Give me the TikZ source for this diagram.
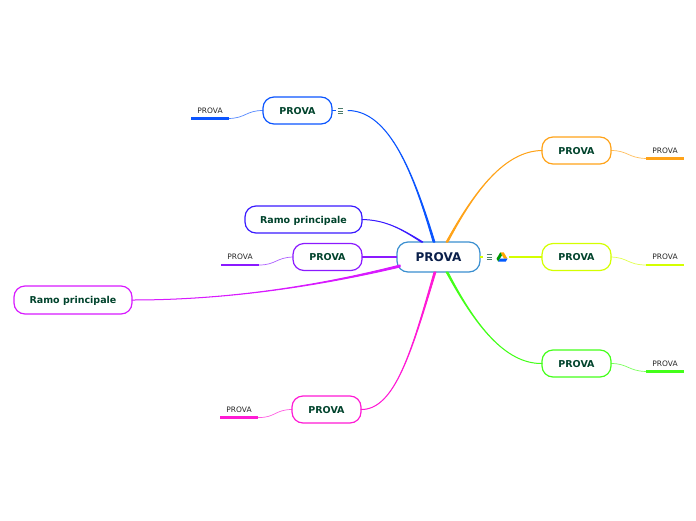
\documentclass[tikz,border=0pt]{standalone}
\usepackage{xcolor}
\usepackage{fontspec}
\setmainfont{DejaVu Sans}
\usetikzlibrary{positioning, calc}
\definecolor{rootline}{HTML}{3A8FD0}
\definecolor{rootink}{HTML}{0A1F4A}
\definecolor{branchink}{HTML}{00432C}
\definecolor{blueline}{HTML}{0B55FF}
\definecolor{orangeline}{HTML}{FFA319}
\definecolor{yellowline}{HTML}{D4FF00}
\definecolor{greenline}{HTML}{44FF1A}
\definecolor{pinkline}{HTML}{FF1AD5}
\definecolor{violetline}{HTML}{8B1AFF}
\definecolor{indigoline}{HTML}{3A1AFF}
\definecolor{magentaline}{HTML}{D81AFF}
% tapered connector: colour, offset at the thick end, start, control, control, end
\newcommand{\taperline}[6]{
  \draw[draw=#1, fill=#1, line width=1pt, line join=round]
   ($(#3)+(#2)$) .. controls (#4) and (#5) .. (#6)
   .. controls (#5) and (#4) .. ($(#3)-(#2)$) -- cycle;
}
\begin{document}
\begin{tikzpicture}[
   x=1pt, y=1pt,
   root/.style = {draw=rootline, line width=1.2pt, fill=white, rectangle, rounded corners=11pt, minimum width=83pt, minimum height=30pt, inner sep=0pt, outer sep=0pt, text=rootink, text height=8.8pt, text depth=0pt, font=\bfseries\fontsize{12}{14}\selectfont},
   branch/.style = {draw, line width=1.2pt, fill=white, rectangle, rounded corners=11pt, minimum width=69pt, minimum height=27pt, inner sep=0pt, outer sep=0pt, text=branchink, text height=7pt, text depth=0pt, font=\bfseries\fontsize{9.5}{11}\selectfont},
   leaf/.style = {rectangle, minimum width=38pt, minimum height=16pt, inner sep=0pt, outer sep=0pt, text=black!85, font=\fontsize{7.5}{9}\selectfont},
   leafline/.style = {line width=2.2pt},
   twig/.style = {line width=.7pt, opacity=.7},
   noteicon/.pic = {
     \draw[line width=.8pt, branchink!70] (-2.7,-2.4) -- (2.7,-2.4) (-2.7,0) -- (2.7,0) (-2.7,2.4) -- (2.7,2.4);
   }
   ]
  \useasboundingbox (0,0) rectangle (696,-520);

  % Centre
  \node[root] (centre) at (438.5,-257) {PROVA};

  % Left branches
  \node[branch, draw=blueline, above left=118pt and 65pt of centre] (provaA) {PROVA};
  \node[branch, draw=indigoline, above left=9pt and 35pt of centre, minimum width=117pt] (ramoA) {Ramo principale};
  \node[branch, draw=violetline, left=35pt of centre] (provaB) {PROVA};
  \node[branch, draw=magentaline, below left=14pt and 265pt of centre, minimum width=118pt, minimum height=28pt] (ramoB) {Ramo principale};
  \node[branch, draw=pinkline, below left=124pt and 36pt of centre] (provaC) {PROVA};

  % Right branches
  \node[branch, draw=orangeline, above right=78pt and 62pt of centre] (provaD) {PROVA};
  \node[branch, draw=yellowline, right=62pt of centre] (provaE) {PROVA};
  \node[branch, draw=greenline, below right=78pt and 62pt of centre] (provaF) {PROVA};

  % Leaves
  \node[leaf, left=34pt of provaA] (leafA) {PROVA};
  \node[leaf, left=34pt of provaB] (leafB) {PROVA};
  \node[leaf, left=34pt of provaC] (leafC) {PROVA};
  \node[leaf, right=35pt of provaD] (leafD) {PROVA};
  \node[leaf, right=35pt of provaE] (leafE) {PROVA};
  \node[leaf, right=35pt of provaF] (leafF) {PROVA};

  % Free ends next to the note icons
  \coordinate (noteA) at ($(provaA.east)+(4pt,0)$);
  \coordinate (noteAend) at ($(provaA.east)+(16pt,0)$);

  % Connectors from the centre
  \taperline{blueline}{.9pt,0}{434,-242}{414,-175}{390,-111}{noteAend}
  \taperline{orangeline}{.9pt,0}{447,-242}{475,-190}{505,-151}{provaD.west}
  \taperline{greenline}{.9pt,0}{447,-272}{475,-325}{505,-364}{provaF.west}
  \taperline{pinkline}{.9pt,0}{435,-272}{412,-350}{395,-410}{provaC.east}
  \taperline{indigoline}{.9pt,0}{422,-242}{400,-228}{385,-220}{ramoA.east}
  \taperline{magentaline}{0,1pt}{400,-266}{310,-288}{220,-300}{ramoB.east}
  \draw[violetline, line width=1.1pt] (provaB) -- (centre);
  \draw[yellowline, line width=1.1pt] (centre) -- (provaE);
  \draw[blueline, line width=.8pt] (provaA.east) -- (noteA);

  % Twigs to the leaves
  \draw[twig, blueline] (provaA.west) .. controls (246,-110.5) and (246,-118) .. (leafA.south east);
  \draw[twig, violetline] (provaB.west) .. controls (276,-257.5) and (276,-265) .. (leafB.south east);
  \draw[twig, pinkline] (provaC.west) .. controls (275,-409.5) and (275,-418) .. (leafC.south east);
  \draw[twig, orangeline] (provaD.east) .. controls (628,-150.5) and (628,-158) .. (leafD.south west);
  \draw[twig, yellowline] (provaE.east) .. controls (628,-257.5) and (628,-265) .. (leafE.south west);
  \draw[twig, greenline] (provaF.east) .. controls (628,-363.5) and (628,-371) .. (leafF.south west);

  % Leaf underlines
  \draw[leafline, blueline] (leafA.south west) -- (leafA.south east);
  \draw[leafline, violetline] (leafB.south west) -- (leafB.south east);
  \draw[leafline, pinkline] (leafC.south west) -- (leafC.south east);
  \draw[leafline, orangeline] (leafD.south west) -- (leafD.south east);
  \draw[leafline, yellowline] (leafE.south west) -- (leafE.south east);
  \draw[leafline, greenline] (leafF.south west) -- (leafF.south east);

  % Icons
  \fill[white] (483,-262) rectangle (508.5,-251);
  \pic at (340.5,-111) {noteicon};
  \pic at (489.5,-257) {noteicon};
  \fill[orange!70!yellow] (500.3,-252.3) -- (503.7,-252.3) -- (507.5,-258.7) -- (504.1,-258.7) -- cycle;
  \fill[green!60!black] (500.3,-252.3) -- (496.5,-258.7) -- (498.2,-261.6) -- (502,-255.2) -- cycle;
  \fill[blue!65!cyan] (498.2,-261.6) -- (505.8,-261.6) -- (507.5,-258.7) -- (499.9,-258.7) -- cycle;
\end{tikzpicture}
\end{document}
